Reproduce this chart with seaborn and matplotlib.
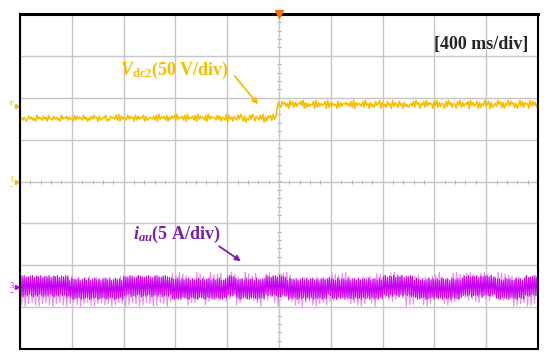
import numpy as np
import pandas as pd
import seaborn as sns
import matplotlib
matplotlib.use("Agg")
import matplotlib.pyplot as plt

# screen: 10 x 8 divisions, 400 ms/div
n_xdiv = 10
n_ydiv = 8

# Vdc2 trace (div), level before / after step
vdc_levels = [1.50, 1.83]
vdc_step_at = 4.94
# hand-read jitter of the yellow trace, one digit per sample (4.5 = level)
vdc_noise = (
    "45364257463528465374628453746352846573645283746538"
    "46253748562734658243756483927465384756283746582734"
    "65473829465738264758394657382946573829475638294756"
    "53847265391846275384962715384962753849162758394617"
    "42857361948273658491726354819273645819273645182736"
    "57463829174653829461735284691735284619375284617352"
    "46382957164829375618492736518394726518492736581947"
    "35817264935817246395827164938572614938275619384726"
)

# iau trace (div): centre and envelope digits of dense core and pale spikes
iau_level = -2.53
iau_core = (
    "73859264718395628471936582749163857294618372958416"
    "59382746193857264918375629481736592847163958274619"
    "84726195837462918573648291756382947165839274615839"
    "37581946273859164728395617482936571849263758192647"
    "62948371562839471658293746185927364851937264819375"
    "95827364195738264917385629471836592748163957284163"
    "48371956283749165827394618572936481759263847195628"
    "71936582749163857294618372958416593827461938572649"
    "26481759362847195637284916538274916583729461857392"
    "83749261573849162758394617285936471852936471829365"
)
iau_spikes = (
    "58294736185927463819572648193756284917365829471638"
    "37491826573948261759384627195836472915836492715846"
    "26937148259163748205639178462093715486290374815629"
    "72819465382719463528194736281594736281945736281947"
    "40562983716204859371620948375162084937516290473816"
    "85937162849375168293746152938471625938471659382746"
)

trigger_pos = 5.0
trigger_level = 1.81

yellow = "#F7BE00"
magenta = "#C800F2"
pink = "#E98AF6"
purple_txt = "#7A22A8"

sns.set_style("white")
plt.rcParams["font.family"] = ["Liberation Serif", "DejaVu Sans"]
plt.rcParams["mathtext.fontset"] = "custom"
plt.rcParams["mathtext.rm"] = "Liberation Serif:bold"
plt.rcParams["mathtext.it"] = "Liberation Serif:italic:bold"
plt.rcParams["mathtext.bf"] = "Liberation Serif:bold"

fig = plt.figure(figsize=(5.5, 3.6), dpi=100)
ax = fig.add_axes([20 / 550, 1 - 349 / 360, 518 / 550, 335 / 360])

# yellow trace
d = np.array([int(c) for c in vdc_noise])
t = np.linspace(0, n_xdiv, len(d))
lvl = np.where(t < vdc_step_at, vdc_levels[0], vdc_levels[1])
vdc = pd.DataFrame({"t": t, "v": lvl + (d - 4.5) * 0.024})
sns.lineplot(data=vdc, x="t", y="v", ax=ax, color=yellow, lw=1.1,
             estimator=None, sort=False)

# magenta trace, pale spikes under the dense core
s = np.array([int(c) for c in iau_spikes])
ts = np.linspace(0, n_xdiv, len(s))
sign = np.where(np.arange(len(s)) % 2 == 0, 0.9, -1.1)
spk = pd.DataFrame({"t": ts, "v": iau_level + sign * (0.18 + s * 0.025)})
sns.lineplot(data=spk, x="t", y="v", ax=ax, color=pink, lw=0.8,
             estimator=None, sort=False)

c = np.array([int(ch) for ch in iau_core])
tc = np.linspace(0, n_xdiv, len(c))
sign = np.where(np.arange(len(c)) % 2 == 0, 1.0, -1.0)
core = pd.DataFrame({"t": tc, "v": iau_level + sign * (0.15 + c * 0.015)})
sns.lineplot(data=core, x="t", y="v", ax=ax, color=magenta, lw=0.8,
             estimator=None, sort=False)

# graticule
ax.set_xlim(0, n_xdiv)
ax.set_ylim(-n_ydiv / 2, n_ydiv / 2)
ax.set_xticks(range(n_xdiv + 1))
ax.set_yticks(range(-n_ydiv // 2, n_ydiv // 2 + 1))
ax.grid(True, color="#c6c6c6", lw=1.0)
ax.set_axisbelow(True)
ax.tick_params(length=0, labelbottom=False, labelleft=False)
ax.set(xlabel=None, ylabel=None)
for sp in ax.spines.values():
    sp.set_color("black")
    sp.set_linewidth(1.5)
ax.spines["top"].set_linewidth(2.2)

sub = np.arange(0, n_xdiv + 0.01, 0.2)
ax.plot(sub, np.zeros_like(sub), ls="none", marker="|", ms=2.5,
        color="#a8a8a8", mew=0.7, zorder=0.5)
suby = np.arange(-n_ydiv / 2, n_ydiv / 2 + 0.01, 0.2)
ax.plot(np.full_like(suby, n_xdiv / 2), suby, ls="none", marker="_", ms=2.5,
        color="#a8a8a8", mew=0.7, zorder=0.5)

# channel and trigger markers
ax.plot(trigger_pos, n_ydiv / 2, marker="v", ms=6, color="#F07010",
        clip_on=False, zorder=5)
ax.plot(-0.05, trigger_level, marker=">", ms=3, color=yellow, clip_on=False)
ax.text(-0.12, trigger_level + 0.05, "T", color=yellow, fontsize=5,
        ha="right", va="center", fontweight="bold")
ax.plot(-0.05, 0, marker=">", ms=3, color=yellow, clip_on=False)
ax.text(-0.12, 0.03, "1", color=yellow, fontsize=6, ha="right", va="center")
ax.text(-0.12, -0.15, "\u2212", color=yellow, fontsize=5, ha="right", va="center")
ax.plot(-0.05, iau_level, marker=">", ms=3, color=magenta, clip_on=False)
ax.text(-0.12, iau_level + 0.03, "3", color=magenta, fontsize=6,
        ha="right", va="center")
ax.text(-0.12, iau_level - 0.15, "\u2212", color=magenta, fontsize=5,
        ha="right", va="center")

# labels
ax.text(9.81, 3.26, "[400 ms/div]", fontsize=13, fontweight="bold",
        ha="right", va="center")
ax.text(1.93, 2.54, r"$V_{\mathrm{dc2}}$(50 V/div)", fontsize=13,
        fontweight="bold", color=yellow, ha="left", va="baseline")
ax.annotate("", xy=(4.63, 1.79), xytext=(4.11, 2.57),
            arrowprops=dict(arrowstyle="-|>", color=yellow, lw=1.3,
                            mutation_scale=8))
ax.text(2.18, -1.36, r"$i_{au}$(5 A/div)", fontsize=13, fontweight="bold",
        color=purple_txt, ha="left", va="baseline")
ax.annotate("", xy=(4.31, -1.94), xytext=(3.80, -1.51),
            arrowprops=dict(arrowstyle="-|>", color=purple_txt, lw=1.3,
                            mutation_scale=8))

fig.savefig("out.png", dpi=100)
